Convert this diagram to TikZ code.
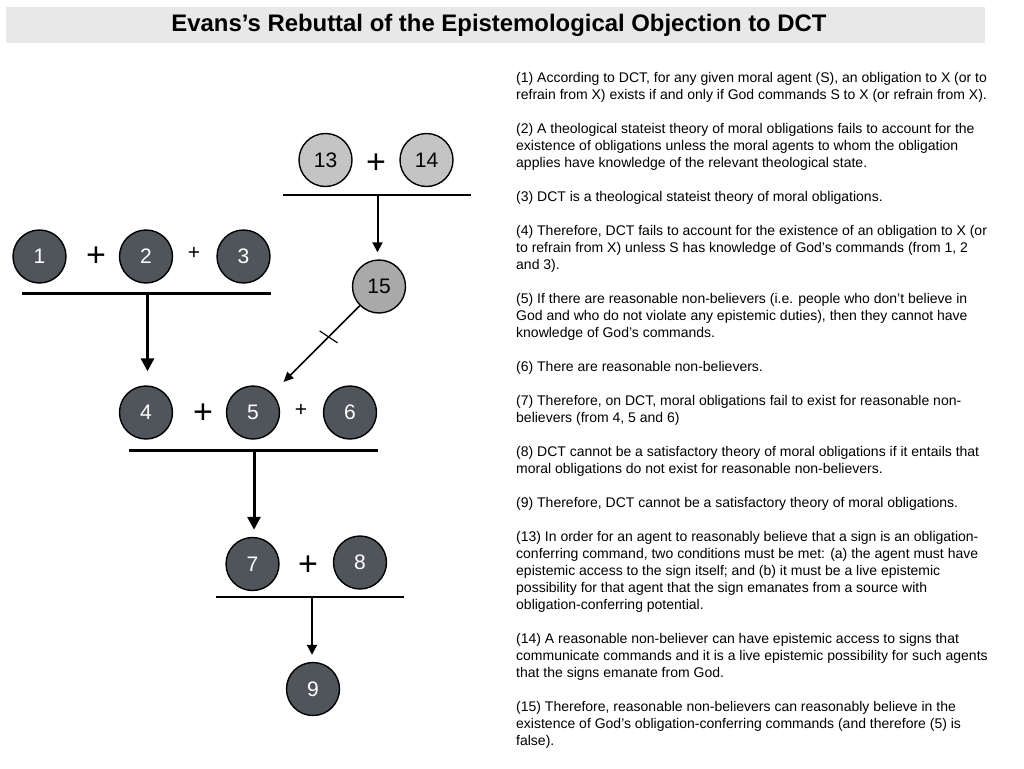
\documentclass[tikz,border=0pt]{standalone}
\usepackage{fontspec}
\setmainfont{Liberation Sans}
\usetikzlibrary{arrows.meta,calc}
\definecolor{darkfill}{HTML}{50555B}
\definecolor{lightfill}{HTML}{C4C4C4}
\definecolor{midfill}{HTML}{A9A9A9}
\definecolor{bandfill}{HTML}{E8E8E8}
\begin{document}
\begin{tikzpicture}[x=1pt,y=-1pt,
  prem/.style={circle,draw=black,line width=1.4pt,minimum size=53pt,inner sep=0pt,font=\fontsize{21}{21}\selectfont},
  darkc/.style={prem,fill=darkfill,text=white},
  lightc/.style={prem,fill=lightfill},
  midc/.style={prem,fill=midfill},
  bigplus/.style={inner sep=0pt,font=\fontsize{34}{34}\selectfont},
  smallplus/.style={inner sep=0pt,font=\fontsize{21}{21}\selectfont},
  thickbar/.style={line width=3pt},
  thinbar/.style={line width=2pt},
  thickarrow/.style={line width=3pt,-{Triangle[width=13pt,length=13pt]}},
  thinarrow/.style={line width=2pt,-{Triangle[width=10pt,length=10pt]}},
  diagarrow/.style={line width=1.5pt,-{Triangle[width=9pt,length=10pt]}},
  para/.style={anchor=north west,inner sep=0pt,align=left,font=\fontsize{14}{17}\selectfont},
  titletext/.style={font=\fontsize{23.9}{28}\selectfont\bfseries,inner sep=0pt}
]
\useasboundingbox (0,0) rectangle (1024,768);
% title
\fill[bandfill] (6,7) rectangle (985,43);
\node[titletext] (title) at (499,25) {Evans’s Rebuttal of the Epistemological Objection to DCT};

% premises 1-3
\node[darkc] (c1) at (39.5,256.5) {1};
\node[darkc] (c2) at (146,256.5) {2};
\node[darkc] (c3) at (243.5,256.5) {3};
\node[bigplus] (p12) at (96,257) {+};
\node[smallplus] (p23) at (194,253) {+};
\coordinate (b1l) at (22,293);
\coordinate (b1r) at (271,293);
\coordinate (b1m) at (147.5,293);
\draw[thickbar] (b1l) -- (b1r);

% premises 13-14
\node[lightc] (c13) at (325.5,160) {13};
\node[lightc] (c14) at (426.5,160) {14};
\node[bigplus] (p1314) at (376,164) {+};
\coordinate (b2l) at (283,194.5);
\coordinate (b2r) at (471,194.5);
\coordinate (b2m) at (377.5,194.5);
\draw[thinbar] (b2l) -- (b2r);

\node[midc] (c15) at (379,286.5) {15};

% 4-6
\node[darkc] (c4) at (146,412.5) {4};
\node[darkc] (c5) at (253,412.5) {5};
\node[darkc] (c6) at (350,412.5) {6};
\node[bigplus] (p45) at (203,414) {+};
\node[smallplus] (p56) at (301,410) {+};
\coordinate (b3l) at (129,450);
\coordinate (b3r) at (378,450);
\coordinate (b3m) at (254,450);
\draw[thickbar] (b3l) -- (b3r);

% 7-8
\node[darkc] (c7) at (252.5,564) {7};
\node[darkc] (c8) at (360,562.5) {8};
\node[bigplus] (p78) at (308,566) {+};
\coordinate (b4l) at (216,597);
\coordinate (b4r) at (404,597);
\coordinate (b4m) at (312,597);
\draw[thinbar] (b4l) -- (b4r);

\node[darkc] (c9) at (313,689) {9};

% arrows
\draw[thickarrow,shorten >=14pt] (b1m) -- (b1m |- c4.north);
\draw[thinarrow,shorten >=7pt] (b2m) -- (b2m |- c15.north);
\draw[thickarrow,shorten >=7pt] (b3m) -- (b3m |- c7.north);
\draw[thinarrow,shorten >=7pt] (b4m) -- (b4m |- c9.north);
\draw[diagarrow,shorten >=16pt] (c15) -- (c5);
\coordinate (tk) at ($(c15)!0.4!(c5)$);
\draw[line width=1.2pt] ($(tk)+(-9,-6)$) -- ($(tk)+(9,6)$);

% text
\node[para] (t1) at (516,70) {\strut(1) According to DCT, for any given moral agent (S), an obligation to X (or to\\refrain from X) exists if and only if God commands S to X (or refrain from X).};
\node[para] (t2) at (516,121) {\strut(2) A theological stateist theory of moral obligations fails to account for the\\existence of obligations unless the moral agents to whom the obligation\\applies have knowledge of the relevant theological state.};
\node[para] (t3) at (516,189) {\strut(3) DCT is a theological stateist theory of moral obligations.};
\node[para] (t4) at (516,223) {\strut(4) Therefore, DCT fails to account for the existence of an obligation to X (or\\to refrain from X) unless S has knowledge of God’s commands (from 1, 2\\and 3).};
\node[para] (t5) at (516,291) {\strut(5) If there are reasonable non-believers (i.e. people who don’t believe in\\God and who do not violate any epistemic duties), then they cannot have\\knowledge of God’s commands.};
\node[para] (t6) at (516,359) {\strut(6) There are reasonable non-believers.};
\node[para] (t7) at (516,393) {\strut(7) Therefore, on DCT, moral obligations fail to exist for reasonable non-\\believers (from 4, 5 and 6)};
\node[para] (t8) at (516,444) {\strut(8) DCT cannot be a satisfactory theory of moral obligations if it entails that\\moral obligations do not exist for reasonable non-believers.};
\node[para] (t9) at (516,495) {\strut(9) Therefore, DCT cannot be a satisfactory theory of moral obligations.};
\node[para] (t13) at (516,529) {\strut(13) In order for an agent to reasonably believe that a sign is an obligation-\\conferring command, two conditions must be met: (a) the agent must have\\epistemic access to the sign itself; and (b) it must be a live epistemic\\possibility for that agent that the sign emanates from a source with\\obligation-conferring potential.};
\node[para] (t14) at (516,631) {\strut(14) A reasonable non-believer can have epistemic access to signs that\\communicate commands and it is a live epistemic possibility for such agents\\that the signs emanate from God.};
\node[para] (t15) at (516,699) {\strut(15) Therefore, reasonable non-believers can reasonably believe in the\\existence of God’s obligation-conferring commands (and therefore (5) is\\false).};
\end{tikzpicture}
\end{document}
